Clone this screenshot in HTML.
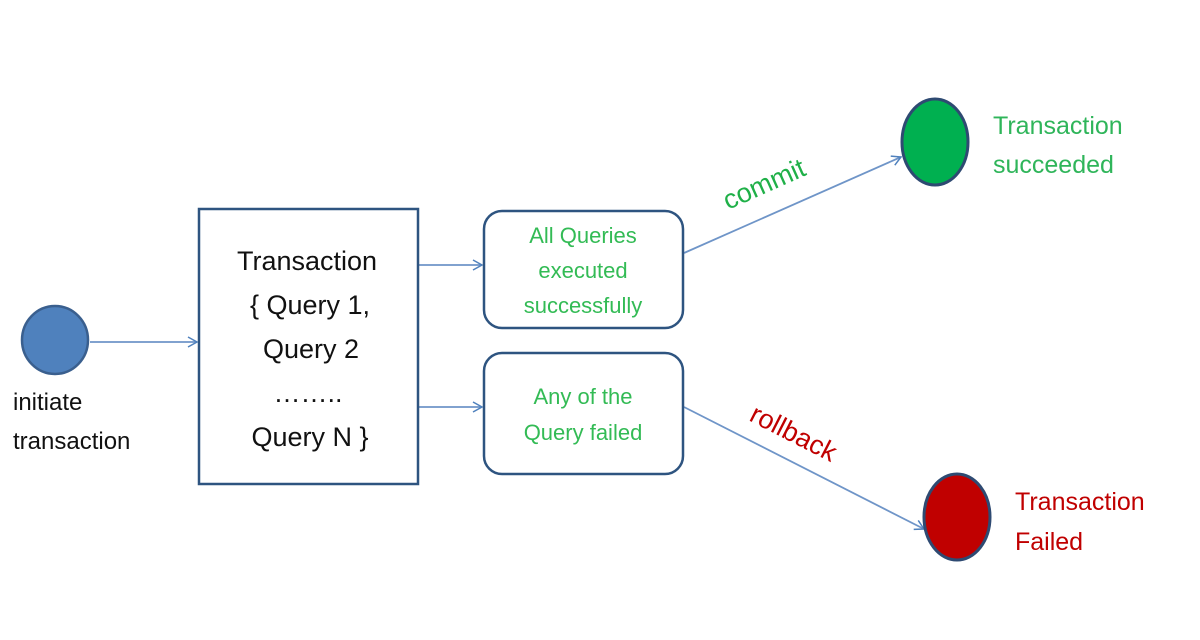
<!DOCTYPE html>
<html><head><meta charset="utf-8"><style>
body{margin:0;background:#fff;width:1200px;height:635px;overflow:hidden}
svg text{font-family:"Liberation Sans",sans-serif}
</style></head><body>
<svg width="1200" height="635" viewBox="0 0 1200 635" xmlns="http://www.w3.org/2000/svg">
<defs><marker id="a" markerWidth="12" markerHeight="12" refX="10" refY="6" orient="auto" markerUnits="userSpaceOnUse"><path d="M1,1 L10,6 L1,11" fill="none" stroke="#4f81bd" stroke-width="1.5"/></marker></defs>
<g stroke="#6f95c8" stroke-width="1.8" fill="none" marker-end="url(#a)">
<line x1="90" y1="342" x2="197" y2="342"/>
<line x1="418" y1="265" x2="482" y2="265"/>
<line x1="418" y1="407" x2="482" y2="407"/>
<line x1="684" y1="253" x2="901" y2="157"/>
<line x1="684" y1="407" x2="924" y2="529"/>
</g>
<ellipse cx="55" cy="340" rx="33" ry="34" fill="#4f81bd" stroke="#3a5f8e" stroke-width="2.5"/>
<rect x="199" y="209" width="219" height="275" fill="#fff" stroke="#2e5480" stroke-width="2.5"/>
<rect x="484" y="211" width="199" height="117" rx="18" fill="#fff" stroke="#2e5480" stroke-width="2.5"/>
<rect x="484" y="353" width="199" height="121" rx="18" fill="#fff" stroke="#2e5480" stroke-width="2.5"/>
<ellipse cx="935" cy="142" rx="33" ry="43" fill="#00b050" stroke="#2e4a72" stroke-width="3"/>
<ellipse cx="957" cy="517" rx="33" ry="43" fill="#c00000" stroke="#2e4a72" stroke-width="3"/>
<g font-size="27" fill="#111" text-anchor="middle">
<text x="307" y="270">Transaction</text>
<text x="310" y="314">{ Query  1,</text>
<text x="311" y="358">Query  2</text>
<text x="308" y="402">……..</text>
<text x="310" y="446">Query  N }</text>
</g>
<g font-size="24" fill="#111">
<text x="13" y="410">initiate</text>
<text x="13" y="449">transaction</text>
</g>
<g font-size="22" fill="#33bb55" text-anchor="middle">
<text x="583" y="243">All Queries</text>
<text x="583" y="278">executed</text>
<text x="583" y="313">successfully</text>
<text x="583" y="404">Any of the</text>
<text x="583" y="440">Query failed</text>
</g>
<g font-size="25" fill="#2fb55a">
<text x="993" y="134">Transaction</text>
<text x="993" y="173">succeeded</text>
<text transform="translate(728,210) rotate(-24)" font-size="27" fill="#1fb048">commit</text>
</g>
<g font-size="25" fill="#c00000">
<text x="1015" y="510">Transaction</text>
<text x="1015" y="550">Failed</text>
<text transform="translate(748,420) rotate(27)" font-size="27">rollback</text>
</g>
</svg>
</body></html>
